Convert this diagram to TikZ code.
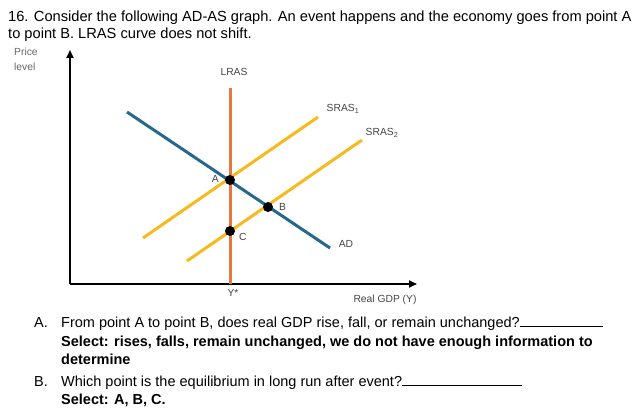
\documentclass[tikz,border=0pt]{standalone}
\usepackage{fontspec}
\setmainfont{Liberation Sans}
\usetikzlibrary{arrows.meta}
\definecolor{lrasc}{HTML}{E8773D}
\definecolor{adc}{HTML}{24688C}
\definecolor{srasc}{HTML}{F6BA1E}
\definecolor{lblc}{HTML}{444444}
\definecolor{plc}{HTML}{666666}
\tikzset{
  x=1pt,y=-1pt,
  title/.style={anchor=base west,inner sep=0,font=\fontsize{14.65}{16}\selectfont},
  qtext/.style={anchor=base west,inner sep=0,font=\fontsize{14.5}{16}\selectfont},
  qbold/.style={anchor=base west,inner sep=0,font=\fontsize{14.5}{16}\selectfont\bfseries},
  lbl/.style={inner sep=0,text=lblc,font=\fontsize{10.3}{12}\selectfont},
  axis/.style={line width=1.8pt,-{Triangle[length=8pt,width=7pt]}},
  curve/.style={line width=3pt},
  pt/.style={circle,fill=black,minimum size=10pt,inner sep=0}
}
\begin{document}
\begin{tikzpicture}
\useasboundingbox (0,0) rectangle (642,409);
% title
\node[title] (t1) at (8,22) {16. Consider the following AD-AS graph. An event happens and the economy goes from point A};
\node[title] (t2) at (8,39) {to point B. LRAS curve does not shift.};
% axes
\coordinate (o) at (70,284);
\coordinate (ytop) at (70,50);
\coordinate (xend) at (417,284);
\draw[axis] (o) -- (ytop);
\draw[axis] (o) -- (xend);
\node[lbl,text=plc,anchor=west] (pl1) at (14,52) {Price};
\node[lbl,text=plc,anchor=west] (pl2) at (14,67) {level};
\node[lbl] (xl) at (385,300) {Real GDP (Y)};
% LRAS
\coordinate (l1) at (230,88);
\coordinate (l2) at (230,284);
\draw[curve,lrasc] (l1) -- (l2);
\node[lbl] (lrasl) at (234,72) {LRAS};
\node[lbl] (ys) at (233,293) {Y*};
% SRAS
\coordinate (s1a) at (143,238);
\coordinate (s1b) at (318,117);
\coordinate (s2a) at (187,261);
\coordinate (s2b) at (362,140);
\draw[curve,srasc] (s1a) -- (s1b);
\draw[curve,srasc] (s2a) -- (s2b);
\node[lbl] (sr1) at (343,109) {SRAS\textsubscript{1}};
\node[lbl] (sr2) at (382,133) {SRAS\textsubscript{2}};
% AD
\coordinate (ad1) at (127,112);
\coordinate (ad2) at (330,248);
\draw[curve,adc] (ad1) -- (ad2);
\node[lbl] (adl) at (346,244) {AD};
% points
\node[pt] (A) at (230,180) {};
\node[pt] (B) at (268,207) {};
\node[pt] (C) at (230,231) {};
\node[lbl,anchor=east] (Al) at (219,179) {A};
\node[lbl,anchor=west] (Bl) at (279,207) {B};
\node[lbl,anchor=west] (Cl) at (239,237) {C};
% questions
\node[qtext] (qa) at (34,327) {A.};
\node[qtext] (qa1) at (61,327) {From point A to point B, does real GDP rise, fall, or remain unchanged?\rule{83pt}{0.9pt}};
\node[qbold] (qa2) at (61,346) {Select: rises, falls, remain unchanged, we do not have enough information to};
\node[qbold] (qa3) at (61,364) {determine};
\node[qtext] (qb) at (34,386) {B.};
\node[qtext] (qb1) at (61,386) {Which point is the equilibrium in long run after event?\rule{120pt}{0.9pt}};
\node[qbold] (qb2) at (61,404) {Select: A, B, C.};
\end{tikzpicture}
\end{document}
